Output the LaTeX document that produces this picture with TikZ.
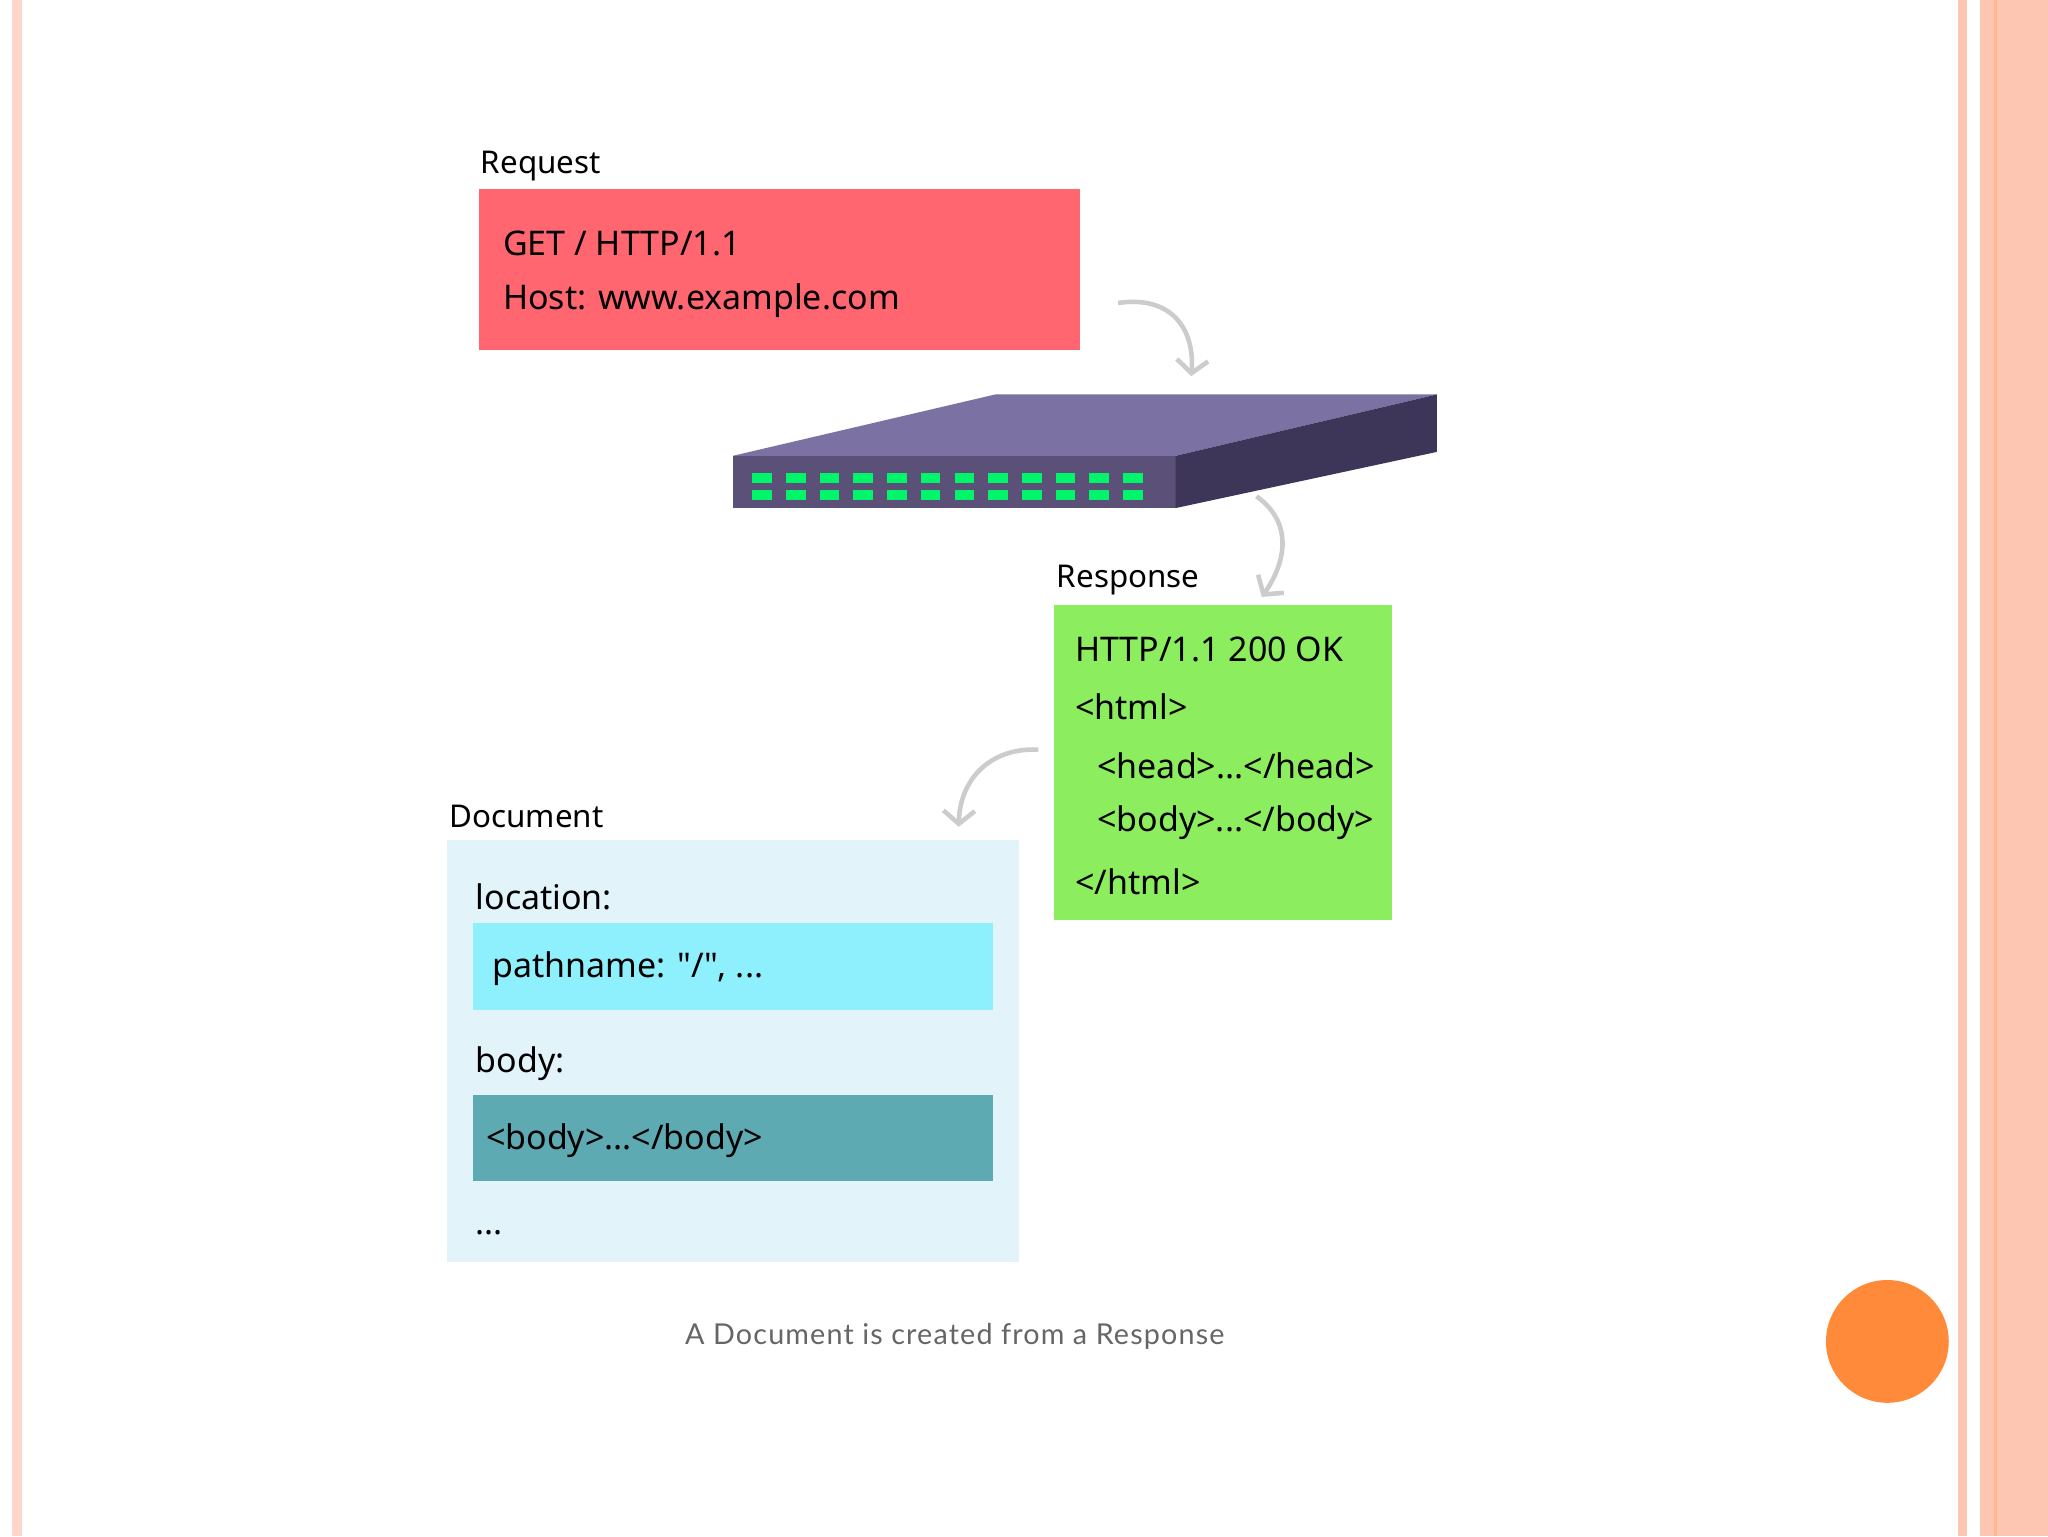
\documentclass[tikz,border=0pt]{standalone}
\usepackage{fontspec}
\setmainfont{Noto Sans}
\newfontfamily\capfont[LetterSpace=4]{Lato}
\usetikzlibrary{arrows.meta}
\definecolor{req}{HTML}{FF6670}
\definecolor{resp}{HTML}{8CEE5E}
\definecolor{docbg}{HTML}{E3F3FA}
\definecolor{loc}{HTML}{8FF0FD}
\definecolor{bod}{HTML}{5EAAB3}
\definecolor{sal}{HTML}{FDC6B3}
\definecolor{topf}{HTML}{7B72A3}
\definecolor{frontf}{HTML}{5A5078}
\definecolor{sidef}{HTML}{3E3659}
\definecolor{led}{HTML}{00F56A}
\definecolor{dot}{HTML}{FF8A3A}
\begin{document}
\begin{tikzpicture}[x=1pt,y=-1pt,
  lbl/.style={anchor=south west,inner sep=0pt,font=\fontsize{24}{26}\selectfont},
  txt/.style={anchor=west,inner sep=0pt,font=\fontsize{26}{28}\selectfont},
  arr/.style={draw=gray!40,line width=3.5pt,-{Straight Barb[length=10pt,width=24pt,line width=3.5pt]}}]
\useasboundingbox (0,0) rectangle (1568,1176);
\fill[white] (0,0) rectangle (1568,1176);
% borders
\fill[sal!70] (9,0) rectangle (17,1176);
\fill[sal] (1499,0) rectangle (1506,1176);
\fill[sal] (1516,0) rectangle (1568,1176);
\fill[sal!80!orange] (1527,0) rectangle (1529,1176);
% request
\node[lbl] (reqlbl) at (368,139) {Request};
\fill[req] (367,145) rectangle (827,268);
\node (req) at (597,206) {};
\node[txt] at (385,186) {GET / HTTP/1.1};
\node[txt] at (385,230) {Host: www.example.com};
% switch
\fill[topf] (561,349) -- (762,302) -- (1100,302) -- (900,349) -- cycle;
\fill[frontf] (561,349) rectangle (900,389);
\fill[sidef] (900,349) -- (1100,302) -- (1100,346) -- (900,389) -- cycle;
\foreach \i in {0,...,11}{
  \pgfmathsetmacro\xx{576+\i*25.8}
  \fill[led] (\xx,362) rectangle ++(15,8);
  \fill[led] (\xx,375) rectangle ++(15,8);
}
\node (sw) at (830,345) {};
% response
\node[lbl] (resplbl) at (809,456) {Response};
\fill[resp] (807,463) rectangle (1066,704);
\node (resp) at (936,583) {};
\node[txt] at (823,497) {HTTP/1.1 200 OK};
\node[txt] at (823,541) {<html>};
\node[txt] at (840,586) {<head>...</head>};
\node[txt] at (840,630) {<body>...</body>};
\node[txt] at (823,675) {</html>};
% document
\node[lbl] (doclbl) at (344,634) {Document};
\fill[docbg] (342,643) rectangle (780,966);
\node (doc) at (561,804) {};
\node[txt] at (364,687) {location:};
\fill[loc] (362,707) rectangle (760,773);
\node[txt] at (377,742) {pathname: \textquotedbl/\textquotedbl, ...};
\node[txt] at (364,814) {body:};
\fill[bod] (362,838) rectangle (760,904);
\node[txt] at (372,873) {<body>...</body>};
\node[txt] at (364,944) {...};
% arrows
\coordinate (a1) at (856,232);
\draw[arr] (a1) .. controls (895,226) and (915,250) .. (912,288);
\coordinate (a2) at (962,380);
\draw[arr] (a2) .. controls (990,400) and (985,430) .. (966,457);
\coordinate (a3) at (795,574);
\draw[arr] (a3) .. controls (760,572) and (735,595) .. (734,633);
% caption
\node[font=\capfont\fontsize{22}{24}\selectfont,text=gray!80!black] (cap) at (731,1023) {A Document is created from a Response};
% dot
\fill[dot] (1445,1027) circle (47);
\end{tikzpicture}
\end{document}
